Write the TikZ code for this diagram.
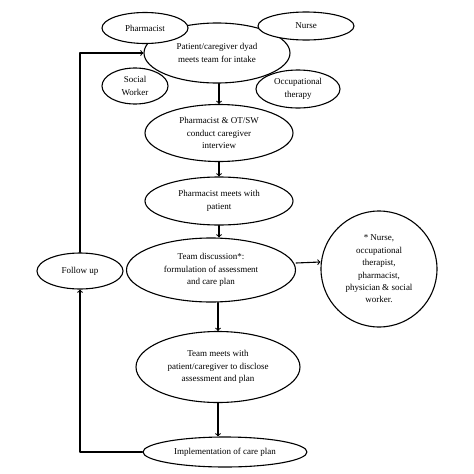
\documentclass[tikz,border=0pt]{standalone}
\usepackage{fontspec}
\setmainfont{Liberation Serif}
\usetikzlibrary{shapes.geometric}

\begin{document}
\begin{tikzpicture}[line cap=round,line join=round,>=to,x=1pt,y=-1pt,
  bubble/.style={draw,ellipse,line width=1.1pt,fill=white,inner sep=0pt,align=center,font=\fontsize{9}{12.4}\selectfont},
  link/.style={->,line width=1.1pt}]
\useasboundingbox (0,0) rectangle (474,474);
% intake cluster
\node[bubble,minimum width=146pt,minimum height=60pt] (intake) at (217,53) {Patient/caregiver dyad\\meets team for intake};
\node[bubble,minimum width=86pt,minimum height=31pt] (pharm) at (145,28) {Pharmacist};
\node[bubble,minimum width=96pt,minimum height=28pt] (nurse) at (306,26) {Nurse};
\node[bubble,minimum width=66pt,minimum height=36pt] (social) at (135,86) {Social\\Worker};
\node[bubble,minimum width=84pt,minimum height=38pt] (ot) at (298,89) {Occupational\\therapy};
% main chain
\node[bubble,minimum width=148pt,minimum height=57pt] (interview) at (219,133) {Pharmacist \& OT/SW\\conduct caregiver\\interview};
\node[bubble,minimum width=148pt,minimum height=48pt] (patient) at (219,201) {Pharmacist meets with\\patient};
\node[bubble,minimum width=169pt,minimum height=64pt] (discuss) at (211,270) {Team discussion*:\\formulation of assessment\\and care plan};
\node[bubble,circle,minimum size=116pt] (members) at (379,269) {* Nurse,\\occupational\\therapist,\\pharmacist,\\physician \& social\\worker.};
\node[bubble,minimum width=164pt,minimum height=71pt] (disclose) at (218,367) {Team meets with\\patient/caregiver to disclose\\assessment and plan};
\node[bubble,minimum width=164pt,minimum height=30pt] (implement) at (225,452) {Implementation of care plan};
\node[bubble,minimum width=86pt,minimum height=36pt] (followup) at (80,271) {Follow up};
% connectors
\draw[link] (intake.south -| interview.north) -- (interview.north);
\draw[link] (interview.south) -- (patient.north);
\draw[link] (patient.south) -- (patient.south |- discuss.north);
\draw[link] (disclose.north |- discuss.south) -- (disclose.north);
\draw[link] (disclose.south) -- (disclose.south |- implement.north);
\draw[link] ([yshift=7pt]discuss.east) -- ([yshift=7pt]members.west);
\draw[link] (implement.west) -| (followup.south);
\draw[link] (followup.north) |- (intake.west);
\end{tikzpicture}
\end{document}
